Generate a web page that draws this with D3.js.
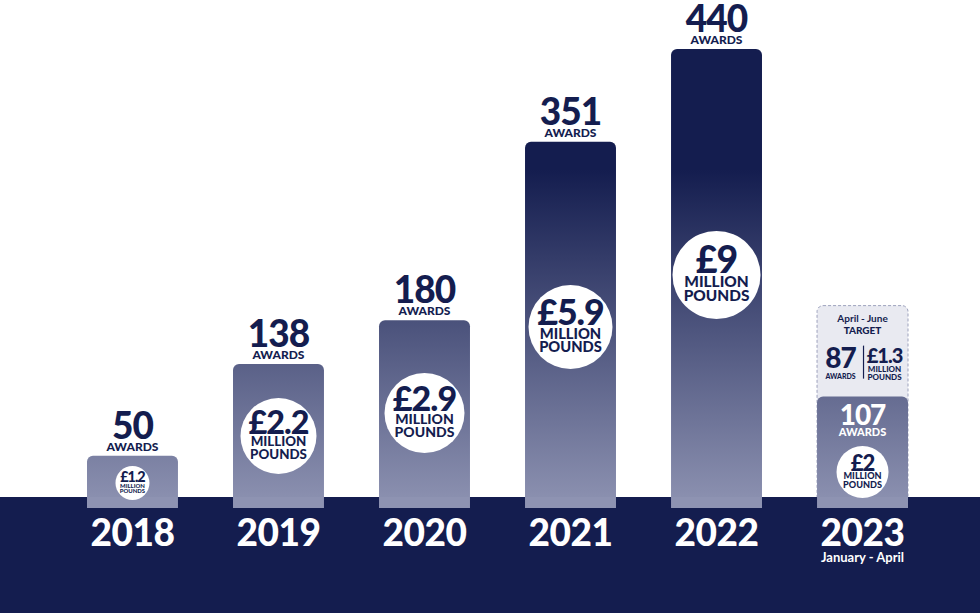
<!DOCTYPE html>
<html><head><meta charset="utf-8">
<script src="https://d3js.org/d3.v7.min.js"></script>
<style>body{margin:0;background:#fff}svg{display:block;font-family:Lato,"Open Sans",sans-serif}</style>
</head><body>
<svg id="c" width="980" height="613"></svg>
<script>
const years = ["2018", "2019", "2020", "2021", "2022", "2023"];
const awards = [50, 138, 180, 351, 440, 107];
const pounds = ["£1.2", "£2.2", "£2.9", "£5.9", "£9", "£2"];
const circleR = [17, 38, 40, 42, 44, 26];
const circleY = [483, 436, 413, 327, 275, 472];
const targetAwards = 87;
const targetPounds = "£1.3";

const navy = "#141d4f";
const svg = d3.select("#c");
const base = 508, band = 497;

const x = d3.scaleBand().domain(years).range([87, 908]).paddingInner(0.377).paddingOuter(0);
const y = d3.scaleLinear().domain([0, 440]).range([base, 49]);

const defs = svg.append("defs");
const g = defs.append("linearGradient").attr("id", "grad")
  .attr("gradientUnits", "userSpaceOnUse").attr("x1", 0).attr("x2", 0).attr("y1", 170).attr("y2", 508);
g.append("stop").attr("offset", 0).attr("stop-color", navy);
g.append("stop").attr("offset", 1).attr("stop-color", "#8e93b2");

// target box for 2023
const bw = x.bandwidth();
svg.append("rect").attr("x", x("2023")).attr("width", bw)
  .attr("y", y(awards[5] + targetAwards)).attr("height", base - y(awards[5] + targetAwards))
  .attr("rx", 6).attr("fill", "#e9eaf1").attr("stroke", "#9da2bd").attr("stroke-dasharray", "3,2");

svg.selectAll(".bar").data(years).join("rect")
  .attr("x", d => x(d)).attr("width", bw)
  .attr("y", (d, i) => y(awards[i])).attr("height", (d, i) => base - y(awards[i]))
  .attr("rx", 6).attr("fill", "url(#grad)");

svg.append("rect").attr("x", 0).attr("y", band).attr("width", 980).attr("height", 613 - band).attr("fill", navy);
svg.selectAll(".barb").data(years).join("rect")
  .attr("x", d => x(d)).attr("width", bw).attr("y", band).attr("height", base - band).attr("fill", "#8e93b2");

const cx = d => x(d) + bw / 2;

years.forEach((yr, i) => {
  const top = y(awards[i]);
  const inside = i === 5;
  const col = inside ? "#fff" : navy;
  svg.append("text").attr("x", cx(yr)).attr("y", inside ? top + 29 : top - 17).attr("text-anchor", "middle")
    .attr("font-size", inside ? 28 : 37).attr("font-weight", 900).attr("fill", col).attr("letter-spacing", -1).text(awards[i]);
  svg.append("text").attr("x", cx(yr)).attr("y", inside ? top + 40 : top - 5).attr("text-anchor", "middle")
    .attr("font-size", inside ? 11 : 12).attr("font-weight", 900).attr("fill", col).text("AWARDS");

  const r = circleR[i], cy = circleY[i], s = r / 40;
  svg.append("circle").attr("cx", cx(yr)).attr("cy", cy).attr("r", r).attr("fill", "#fff");
  svg.append("text").attr("x", cx(yr)).attr("y", cy - 2 * s).attr("text-anchor", "middle")
    .attr("font-size", 34 * s).attr("font-weight", 900).attr("fill", navy).attr("letter-spacing", -1).text(pounds[i]);
  svg.append("text").attr("x", cx(yr)).attr("y", cy + 11 * s).attr("text-anchor", "middle")
    .attr("font-size", 14 * s).attr("font-weight", 900).attr("fill", navy).text("MILLION");
  svg.append("text").attr("x", cx(yr)).attr("y", cy + 24 * s).attr("text-anchor", "middle")
    .attr("font-size", 14 * s).attr("font-weight", 900).attr("fill", navy).text("POUNDS");

  svg.append("text").attr("x", cx(yr)).attr("y", 546).attr("text-anchor", "middle")
    .attr("font-size", 37).attr("font-weight", 900).attr("fill", "#fff").attr("letter-spacing", -0.5).text(yr);
});
svg.append("text").attr("x", cx("2023")).attr("y", 562).attr("text-anchor", "middle")
  .attr("font-size", 13).attr("font-weight", 700).attr("fill", "#fff").text("January - April");

// target contents
const tc = cx("2023"), tt = y(awards[5] + targetAwards);
svg.append("text").attr("x", tc).attr("y", tt + 16).attr("text-anchor", "middle").attr("font-size", 10).attr("font-weight", 700).attr("fill", navy).text("April - June");
svg.append("text").attr("x", tc).attr("y", tt + 28).attr("text-anchor", "middle").attr("font-size", 10).attr("font-weight", 900).attr("fill", navy).text("TARGET");
svg.append("text").attr("x", tc - 22).attr("y", tt + 62).attr("text-anchor", "middle").attr("font-size", 28).attr("font-weight", 900).attr("fill", navy).attr("letter-spacing", -1).text(targetAwards);
svg.append("text").attr("x", tc - 22).attr("y", tt + 73).attr("text-anchor", "middle").attr("font-size", 7).attr("font-weight", 900).attr("fill", navy).text("AWARDS");
svg.append("line").attr("x1", tc + 1).attr("x2", tc + 1).attr("y1", tt + 40).attr("y2", tt + 73).attr("stroke", navy).attr("stroke-width", 1.2);
svg.append("text").attr("x", tc + 22).attr("y", tt + 57).attr("text-anchor", "middle").attr("font-size", 20).attr("font-weight", 900).attr("fill", navy).attr("letter-spacing", -1).text(targetPounds);
svg.append("text").attr("x", tc + 22).attr("y", tt + 66).attr("text-anchor", "middle").attr("font-size", 8).attr("font-weight", 900).attr("fill", navy).text("MILLION");
svg.append("text").attr("x", tc + 22).attr("y", tt + 74).attr("text-anchor", "middle").attr("font-size", 8).attr("font-weight", 900).attr("fill", navy).text("POUNDS");
</script>
</body></html>
